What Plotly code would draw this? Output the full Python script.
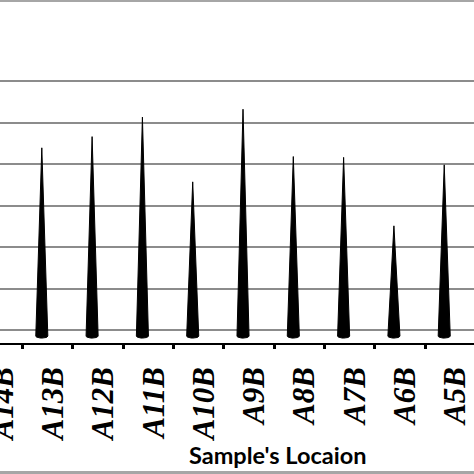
import numpy as np
import plotly.graph_objects as go

# ---- data ----
categories = ["A14B", "A13B", "A12B", "A11B", "A10B", "A9B", "A8B", "A7B", "A6B", "A5B"]
values = [4.0, 4.39, 4.66, 5.13, 3.57, 5.32, 4.18, 4.16, 2.51, 3.98]
grid_values = [0, 1, 2, 3, 4, 5, 6]
x_title = "Sample's Locaion"

# ---- cone geometry (style) ----
shift = -0.12      # perspective shift of cone
half_w = 0.12      # base half-width
base_y = -0.145    # base ellipse centre
base_ry = 0.05     # base ellipse vertical semi-axis

xs, ys = [], []
t = np.linspace(0, -np.pi, 13)
for i, v in enumerate(values):
    xc = i + shift
    xs += [xc - half_w, xc, xc + half_w]
    ys += [base_y, v, base_y]
    xs += list(xc + half_w * np.cos(t))
    ys += list(base_y + base_ry * np.sin(t))
    xs.append(None)
    ys.append(None)

fig = go.Figure()
fig.add_trace(go.Scatter(
    x=xs, y=ys, mode="lines", fill="toself",
    fillcolor="#000000", line=dict(color="#000000", width=1),
    hoverinfo="skip", showlegend=False,
))
# helper trace for the boundary-tick axis
fig.add_trace(go.Scatter(x=[], y=[], xaxis="x2", yaxis="y", showlegend=False))

xr = [0.049, 9.472]
fig.update_layout(
    width=474, height=474,
    margin=dict(l=0, r=0, t=0, b=131, autoexpand=False),
    paper_bgcolor="white", plot_bgcolor="white",
    showlegend=False,
    xaxis=dict(
        range=xr, tickmode="array",
        tickvals=[i + 0.1 for i in range(len(categories))],
        ticktext=categories, tickangle=-90, ticks="",
        ticklabelstandoff=10, automargin=False, ticklabeloverflow="allow",
        tickfont=dict(family="Liberation Serif", size=31, color="black",
                      weight="bold", style="italic"),
        showgrid=False, zeroline=False,
        showline=True, linecolor="black", linewidth=1.5,
    ),
    xaxis2=dict(
        range=xr, overlaying="x", anchor="y", side="bottom",
        tickmode="array",
        tickvals=[i + 0.5 for i in range(len(categories))],
        showticklabels=False, ticks="outside", ticklen=5, tickwidth=2.5,
        tickcolor="black", showgrid=False, zeroline=False, showline=False,
    ),
    yaxis=dict(
        range=[-0.313, 7.952], tickmode="array", tickvals=grid_values,
        showticklabels=False, showgrid=True, gridcolor="#8c8c8c", gridwidth=2,
        zeroline=False, showline=False, ticks="", automargin=False,
    ),
    annotations=[dict(
        text=x_title, xref="paper", yref="paper", x=0.5844, y=-0.3265,
        xanchor="center", yanchor="middle", showarrow=False,
        font=dict(family="Lato", size=23.5, color="black", weight="bold"),
    )],
    shapes=[
        dict(type="line", xref="paper", yref="paper", x0=0, x1=1,
             y0=0.9971, y1=0.9971, line=dict(color="#a6a6a6", width=2)),
        dict(type="line", xref="paper", yref="paper", x0=0, x1=1,
             y0=-0.3776, y1=-0.3776, line=dict(color="#a6a6a6", width=3)),
    ],
)

fig.write_html(
    "out.html",
    config={"displayModeBar": False},
    post_script="document.body.style.margin='0';document.body.style.overflow='hidden';",
)
